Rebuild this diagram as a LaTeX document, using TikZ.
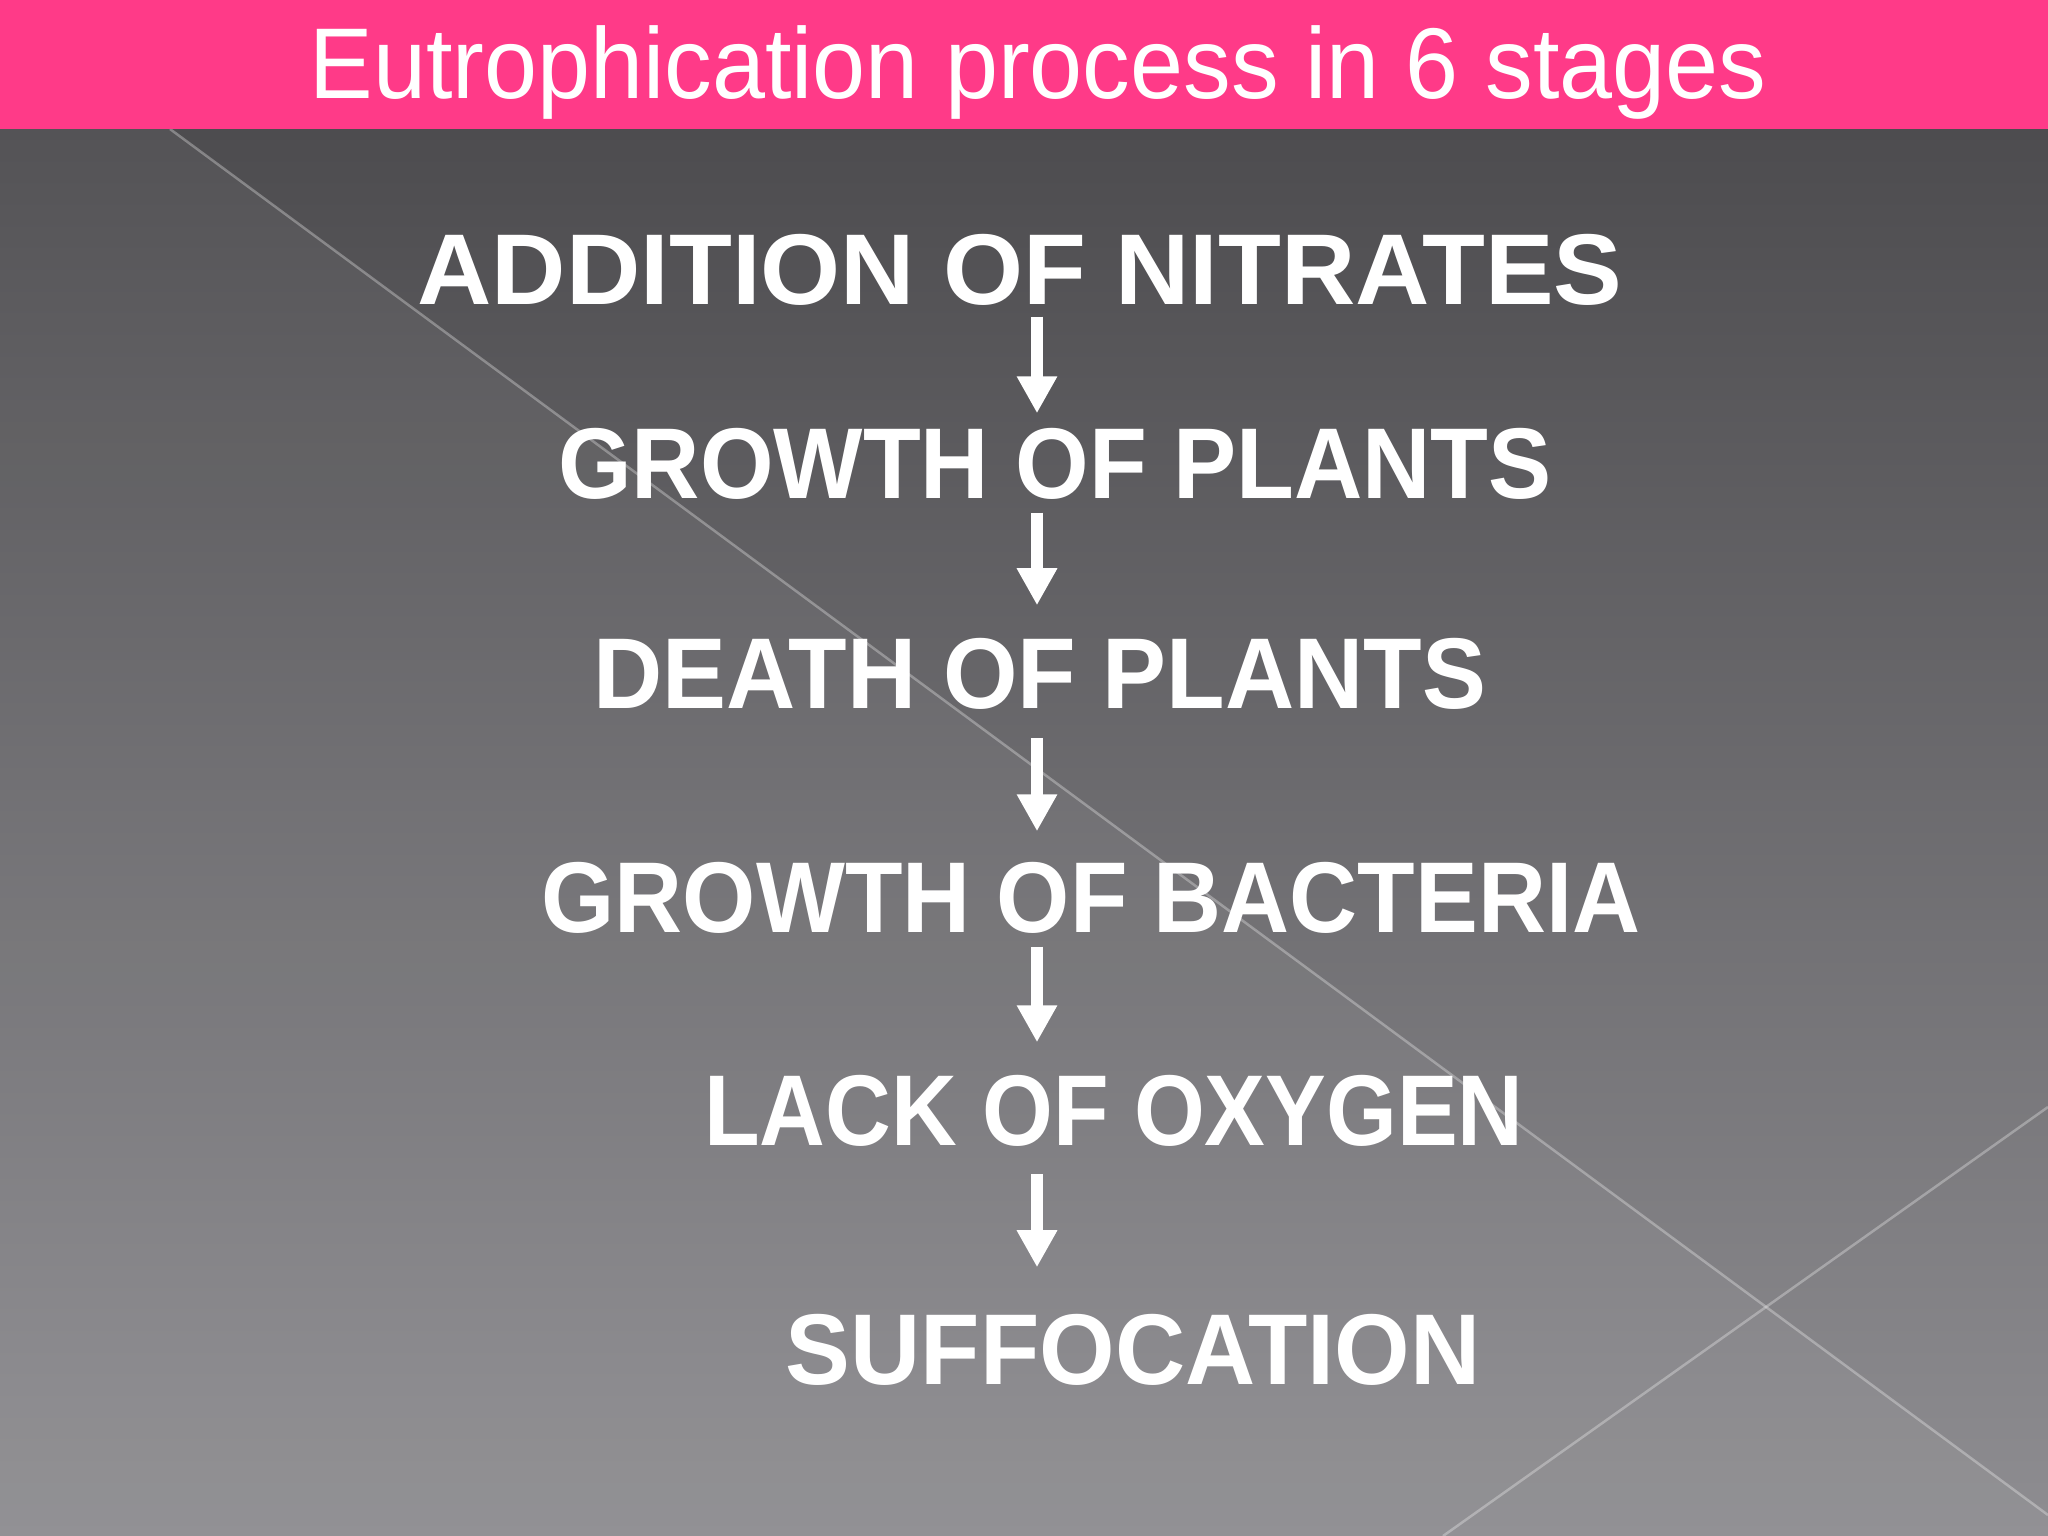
\documentclass[tikz,border=0pt]{standalone}
\usepackage{fontspec}
\setmainfont{Liberation Sans}
\usetikzlibrary{arrows.meta}
\definecolor{bandpink}{HTML}{FF3A88}
\definecolor{bgtop}{HTML}{4D4C4F}
\definecolor{bgbot}{HTML}{8E8D91}
\tikzset{
  stage/.style={text=white, inner sep=0pt, text height=0.72cm, text depth=0pt, font=\fontsize{28.6pt}{30pt}\selectfont\bfseries},
  arr/.style={draw=white, line width=0.12cm, -{Triangle[width=0.38cm,length=0.37cm]}},
  bgline/.style={draw=white, draw opacity=0.3, line width=0.025cm}
}
\newcommand{\fitw}[2]{\resizebox{#1}{\height}{#2}}
\begin{document}
\begin{tikzpicture}[x=0.01cm,y=-0.01cm]
\useasboundingbox (0,0) rectangle (2048,1536);
% background
\shade[top color=bgtop, bottom color=bgbot] (0,129) rectangle (2048,1536);
\fill[white, opacity=0.045] (0,129) -- (170,129) -- (2048,1515) -- (2048,1536) -- (0,1536) -- cycle;
\draw[bgline] (170,129) -- (2048,1515);
\draw[bgline] (1443,1536) -- (2048,1107);
\fill[bandpink] (0,0) rectangle (2048,129);
% title
\node[text=white, inner sep=0pt, anchor=base, font=\fontsize{28.6pt}{30pt}\selectfont] (title) at (1038,98) {\fitw{14.56cm}{Eutrophication process in 6 stages}};
% stages
\node[stage] (t1) at (1020,268) {\fitw{12.04cm}{ADDITION OF NITRATES}};
\node[stage] (t2) at (1055,462) {\fitw{9.93cm}{GROWTH OF PLANTS}};
\node[stage] (t3) at (1040,672) {\fitw{8.92cm}{DEATH OF PLANTS}};
\node[stage] (t4) at (1091,896) {\fitw{10.98cm}{GROWTH OF BACTERIA}};
\node[stage] (t5) at (1114,1109) {\fitw{8.19cm}{LACK OF OXYGEN}};
\node[stage] (t6) at (1133,1348) {\fitw{6.94cm}{SUFFOCATION}};
\coordinate (ax) at (1037,0);
\draw[arr, shorten <=0.12cm, shorten >=0.12cm] (t1.south -| ax) -- (t2.north -| ax);
\draw[arr, shorten <=0.14cm, shorten >=0.30cm] (t2.south -| ax) -- (t3.north -| ax);
\draw[arr, shorten <=0.29cm, shorten >=0.28cm] (t3.south -| ax) -- (t4.north -| ax);
\draw[arr, shorten <=0.14cm, shorten >=0.30cm] (t4.south -| ax) -- (t5.north -| ax);
\draw[arr, shorten <=0.28cm, shorten >=0.44cm] (t5.south -| ax) -- (t6.north -| ax);
\end{tikzpicture}
\end{document}
